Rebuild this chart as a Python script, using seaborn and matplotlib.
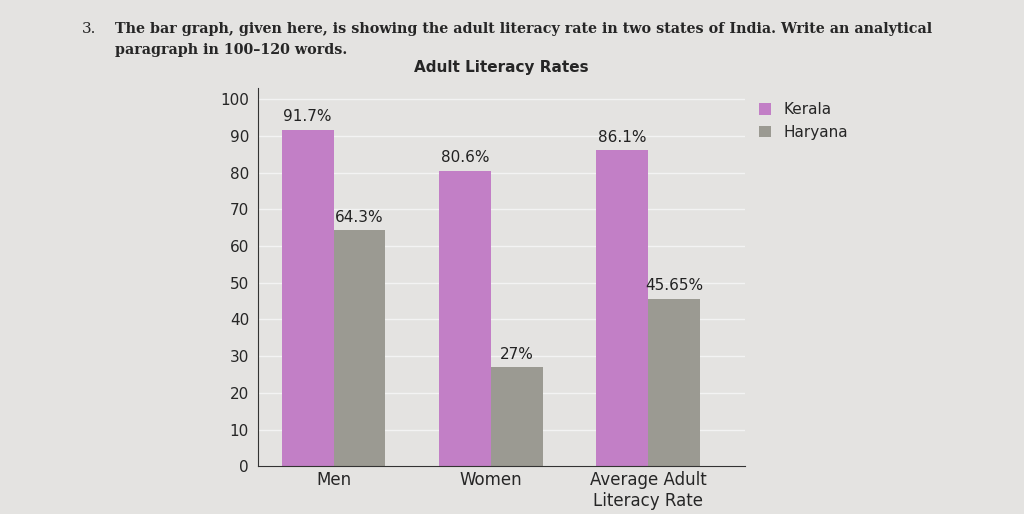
import pandas as pd
import matplotlib.pyplot as plt
import seaborn as sns

# Data
categories = ['Men', 'Women', 'Average Adult\nLiteracy Rate']
kerala = [91.7, 80.6, 86.1]
haryana = [64.3, 27, 45.65]
kerala_labels = ['91.7%', '80.6%', '86.1%']
haryana_labels = ['64.3%', '27%', '45.65%']

df = pd.DataFrame({
    'category': categories * 2,
    'state': ['Kerala'] * 3 + ['Haryana'] * 3,
    'rate': kerala + haryana,
})

sns.set_style("white")
paper = '#e4e3e1'
fig = plt.figure(figsize=(10.24, 5.14), dpi=100, facecolor=paper)
ax = fig.add_axes([0.252, 0.093, 0.476, 0.735])
ax.set_facecolor(paper)

sns.barplot(data=df, x='category', y='rate', hue='state',
            palette={'Kerala': '#c27fc6', 'Haryana': '#9b9a92'},
            width=0.66, saturation=1, linewidth=0, ax=ax)

ax.set_ylim(0, 103)
ax.set_xlim(-0.48, 2.62)
ax.set_yticks(range(0, 101, 10))
ax.yaxis.grid(True, color='#f3f3f3', lw=1)
ax.set_axisbelow(True)
ax.set_xlabel('')
ax.set_ylabel('')
for s in ['top', 'right']:
    ax.spines[s].set_visible(False)
ax.spines['left'].set_color('#333333')
ax.spines['bottom'].set_color('#333333')
ax.tick_params(axis='y', length=6, color='#333333', labelsize=11, direction='inout')
ax.tick_params(axis='x', length=0, labelsize=12)

for cont, labels in zip(ax.containers, [kerala_labels, haryana_labels]):
    ax.bar_label(cont, labels=labels, padding=4, fontsize=11, color='#222222')

ax.legend(loc='upper left', bbox_to_anchor=(1.0, 1.0), frameon=False,
          fontsize=11, handlelength=0.8, handleheight=0.8)
ax.set_title('Adult Literacy Rates', fontsize=11, fontweight='bold', pad=12)

fig.text(0.08, 0.935, '3.', fontsize=11, family='DejaVu Serif')
fig.text(0.112, 0.935, 'The bar graph, given here, is showing the adult literacy rate in two states of India. Write an analytical',
         fontsize=10.3, fontweight='bold', family='DejaVu Serif')
fig.text(0.112, 0.895, 'paragraph in 100\u2013120 words.', fontsize=10.3, fontweight='bold', family='DejaVu Serif')

fig.savefig('out.png', dpi=100, facecolor=paper)
